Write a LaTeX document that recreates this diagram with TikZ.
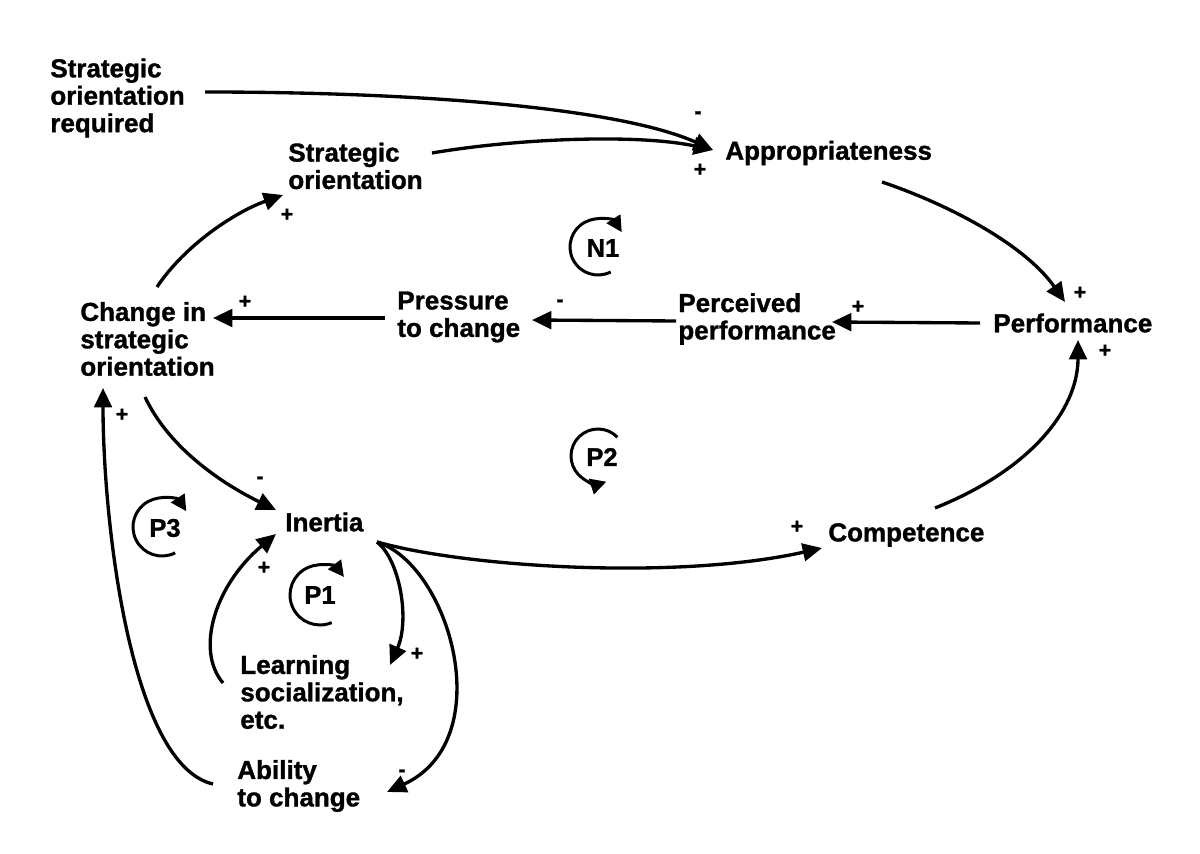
\documentclass[tikz,border=0pt]{standalone}
\usepackage{fontspec}
\setmainfont{Liberation Sans}[BoldFeatures={FakeBold=1.2}]
\usetikzlibrary{arrows.meta,calc}
\begin{document}
\begin{tikzpicture}[x=0.02cm,y=-0.02cm,
  lbl/.style={font=\fontsize{14.8}{15.6}\selectfont\bfseries, align=left, inner sep=0pt, anchor=west},
  sgn/.style={font=\fontsize{12}{12}\selectfont\bfseries, inner sep=0pt},
  conn/.style={line width=1.9pt, -{Triangle[length=11pt,width=10pt]}},
  loopc/.style={line width=1.7pt, -{Triangle[length=9pt,width=9pt]}},
  looplbl/.style={font=\fontsize{14.5}{15}\selectfont\bfseries, inner sep=0pt}]
\useasboundingbox[fill=white] (0,0) rectangle (1200,854);

% variables
\node[lbl] (sor) at (50,98) {Strategic\\orientation\\required};
\node[lbl] (so) at (288,166) {Strategic\\orientation};
\node[lbl] (app) at (725,153) {Appropriateness};
\node[lbl] (chg) at (80,339) {Change in\\strategic\\orientation};
\node[lbl] (pres) at (397,317) {Pressure\\to change};
\node[lbl] (perc) at (678,319) {Perceived\\performance};
\node[lbl] (perf) at (993,323) {Performance};
\node[lbl] (inert) at (285,522) {Inertia};
\node[lbl] (comp) at (828,535) {Competence};
\node[lbl] (learn) at (240,692) {Learning\\socialization,\\etc.};
\node[lbl] (abil) at (237,786) {Ability\\to change};

% connectors
\draw[conn] ($(sor.west)+(155,-6)$) .. controls (420,92) and (620,108) .. ($(app.west)+(-12,-3)$);
\draw[conn] ($(so.west)+(144,-13)$) .. controls (520,138) and (640,134) .. ($(app.west)+(-12,-3)$);
\draw[conn] ($(app.west)+(157,29)$) .. controls (950,205) and (1025,245) .. ($(perf.west)+(72,-21)$);
\draw[conn] ($(perf.west)+(-13,0)$) -- ($(perc.west)+(154,3)$);
\draw[conn] ($(perc.west)+(-2,2)$) -- ($(pres.west)+(135,3)$);
\draw[conn] ($(pres.west)+(-12,1)$) -- ($(chg.west)+(133,-21)$);
\draw[conn] ($(chg.west)+(77,-52)$) .. controls (185,245) and (235,212) .. ($(so.west)+(-5,29)$);
\draw[conn] ($(chg.west)+(65,58)$) .. controls (170,450) and (225,485) .. ($(inert.west)+(-9,-12)$);
\draw[conn] ($(inert.west)+(92,20)$) .. controls (470,568) and (680,580) .. ($(comp.west)+(-6,13)$);
\draw[conn] ($(comp.west)+(107,-27)$) .. controls (1030,470) and (1078,410) .. ($(perf.west)+(85,17)$);
\draw[conn] ($(inert.west)+(92,20)$) .. controls (400,560) and (410,620) .. ($(learn.west)+(150,-27)$);
\draw[conn] ($(inert.west)+(92,20)$) .. controls (450,565) and (500,740) .. ($(abil.west)+(150,6)$);
\draw[conn] ($(learn.west)+(-17,-9)$) .. controls (195,650) and (215,585) .. ($(inert.west)+(-9,12)$);
\draw[conn] ($(abil.west)+(-24,-2)$) .. controls (130,765) and (103,520) .. ($(chg.west)+(23,49)$);

% signs
\node[sgn] (s1) at (698,115) {-};
\node[sgn] (s2) at (700,170) {+};
\node[sgn] (s3) at (287,215) {+};
\node[sgn] (s4) at (1080,293) {+};
\node[sgn] (s5) at (1105,351) {+};
\node[sgn] (s6) at (858,307) {+};
\node[sgn] (s7) at (560,303) {-};
\node[sgn] (s8) at (245,302) {+};
\node[sgn] (s9) at (122,415) {+};
\node[sgn] (s10) at (260,480) {-};
\node[sgn] (s11) at (264,568) {+};
\node[sgn] (s12) at (417,654) {+};
\node[sgn] (s13) at (402,773) {-};
\node[sgn] (s14) at (797,527) {+};

% loop markers
\coordinate (n1c) at (598,247);
\coordinate (p2c) at (598,456);
\coordinate (p3c) at (162,527);
\coordinate (p1c) at (320,595);
\node[looplbl] (n1) at (603,248) {N1};
\node[looplbl] (p2) at (602,457) {P2};
\node[looplbl] (p3) at (165,528) {P3};
\node[looplbl] (p1) at (320,595) {P1};
\draw[loopc] ($(n1c)+(63:28)$) arc[start angle=63,end angle=328,radius=28];
\draw[loopc] ($(p2c)+(-44:27)$) arc[start angle=-44,end angle=-288,radius=27];
\draw[loopc] ($(p3c)+(63:29)$) arc[start angle=63,end angle=327,radius=29];
\draw[loopc] ($(p1c)+(67:30)$) arc[start angle=67,end angle=323,radius=30];
\end{tikzpicture}
\end{document}
